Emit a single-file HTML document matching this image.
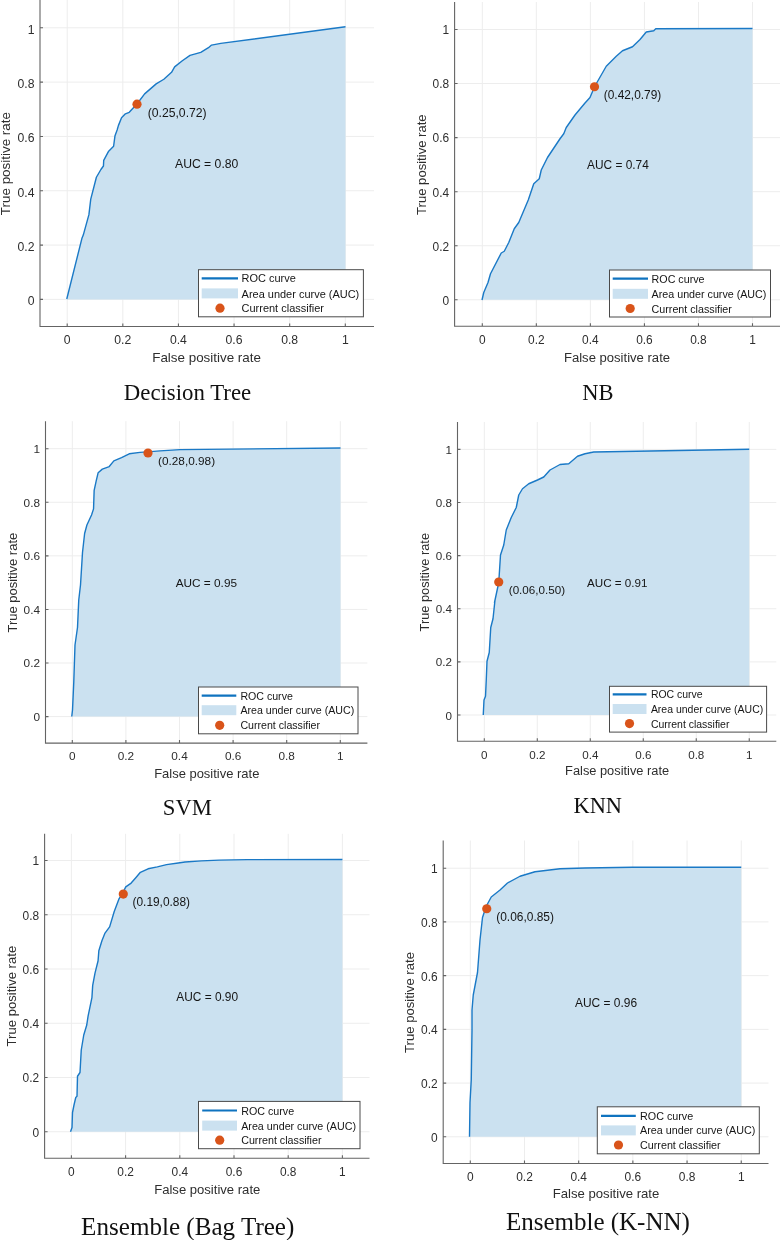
<!DOCTYPE html>
<html lang="en"><head><meta charset="utf-8"><title>ROC curves</title>
<style>
html,body{margin:0;padding:0;background:#fff}
svg{display:block}
text{font-family:"Liberation Sans",Arial,Helvetica,sans-serif}
.k{fill:#2e2e2e}
.d{fill:#151515}
.t{font-family:"Liberation Serif","Times New Roman",serif;fill:#111}
</style></head><body>
<svg width="780" height="1240" viewBox="0 0 780 1240">
<rect width="780" height="1240" fill="#fff"/>
<g id="plot1">
<path d="M67.2 -3V326.5M40 299.4H374M122.82 -3V326.5M40 245.08H374M178.44 -3V326.5M40 190.76H374M234.06 -3V326.5M40 136.44H374M289.68 -3V326.5M40 82.12H374M345.3 -3V326.5M40 27.8H374" stroke="#ededed" stroke-width="1" fill="none"/>
<path d="M66.77 298.97 L81.86 238.6 L83.27 235.08 L88.91 214.63 L90.75 199.11 L96.39 177.25 L100.9 169.49 L103.44 165.97 L103.72 160.32 L108.66 151.16 L113.6 146.22 L115.01 135.64 L117.12 130 L118.46 125.38 L121.54 117.69 L125.38 113.85 L129.23 112.31 L137.38 103.54 L144.62 93.85 L156.15 83.85 L163.85 79.23 L171.54 72.31 L174.62 66.92 L182.31 60.77 L190 55.38 L200.77 52.31 L208.46 47.69 L211.54 45.08 L220.77 43.38 L345.5 26.75 L345.5 299.4 L66.77 299.4 Z" fill="#cbe1f0"/>
<path d="M66.77 298.97 L81.86 238.6 L83.27 235.08 L88.91 214.63 L90.75 199.11 L96.39 177.25 L100.9 169.49 L103.44 165.97 L103.72 160.32 L108.66 151.16 L113.6 146.22 L115.01 135.64 L117.12 130 L118.46 125.38 L121.54 117.69 L125.38 113.85 L129.23 112.31 L137.38 103.54 L144.62 93.85 L156.15 83.85 L163.85 79.23 L171.54 72.31 L174.62 66.92 L182.31 60.77 L190 55.38 L200.77 52.31 L208.46 47.69 L211.54 45.08 L220.77 43.38 L345.5 26.75" fill="none" stroke="#1a79c6" stroke-width="1.4" stroke-linejoin="round"/>
<path d="M40 -3V326.5H374M67.2 326.5v-3M40 299.4h3M122.82 326.5v-3M40 245.08h3M178.44 326.5v-3M40 190.76h3M234.06 326.5v-3M40 136.44h3M289.68 326.5v-3M40 82.12h3M345.3 326.5v-3M40 27.8h3" stroke="#646464" stroke-width="1.1" fill="none"/>
<text class="k" x="67.2" y="344.37" font-size="12.2" text-anchor="middle">0</text><text class="k" x="34.5" y="305.27" font-size="12.2" text-anchor="end">0</text>
<text class="k" x="122.82" y="344.37" font-size="12.2" text-anchor="middle">0.2</text><text class="k" x="34.5" y="250.95" font-size="12.2" text-anchor="end">0.2</text>
<text class="k" x="178.44" y="344.37" font-size="12.2" text-anchor="middle">0.4</text><text class="k" x="34.5" y="196.63" font-size="12.2" text-anchor="end">0.4</text>
<text class="k" x="234.06" y="344.37" font-size="12.2" text-anchor="middle">0.6</text><text class="k" x="34.5" y="142.31" font-size="12.2" text-anchor="end">0.6</text>
<text class="k" x="289.68" y="344.37" font-size="12.2" text-anchor="middle">0.8</text><text class="k" x="34.5" y="87.99" font-size="12.2" text-anchor="end">0.8</text>
<text class="k" x="345.3" y="344.37" font-size="12.2" text-anchor="middle">1</text><text class="k" x="34.5" y="33.67" font-size="12.2" text-anchor="end">1</text>
<text class="k" x="206.6" y="361.73" font-size="13.42" text-anchor="middle">False positive rate</text>
<text class="k" transform="translate(10.23 163.6) rotate(-90)" font-size="13.42" text-anchor="middle">True positive rate</text>
<circle cx="137" cy="104.2" r="4.6" fill="#d9541a"/>
<text x="147.7" y="117.26" font-size="12.2" class="d">(0.25,0.72)</text>
<text x="175" y="167.87" font-size="12.2" class="d">AUC = 0.80</text>
<rect x="198.5" y="269.7" width="164.9" height="47.1" fill="#fff" stroke="#4a4a4a" stroke-width="1"/>
<path d="M201.7 278.3H238" stroke="#0f73bf" stroke-width="2.2"/><rect x="201.7" y="288.4" width="36.3" height="10" fill="#cbe1f0"/><circle cx="220" cy="308.2" r="4.6" fill="#d9541a"/>
<text x="241.6" y="282.43" font-size="10.98" class="d">ROC curve</text><text x="241.6" y="297.53" font-size="10.98" class="d">Area under curve (AUC)</text><text x="241.6" y="312.33" font-size="10.98" class="d">Current classifier</text>
<text class="t" x="187.5" y="399.5" font-size="22.84" text-anchor="middle">Decision Tree</text>
</g>
<g id="plot2">
<path d="M482.3 2V326.3M454.6 299.8H790M536.34 2V326.3M454.6 245.74H790M590.38 2V326.3M454.6 191.68H790M644.42 2V326.3M454.6 137.62H790M698.46 2V326.3M454.6 83.56H790M752.5 2V326.3M454.6 29.5H790" stroke="#ededed" stroke-width="1" fill="none"/>
<path d="M482 300 L483.75 292.5 L488 282.5 L490.5 273.75 L501.25 253 L504.25 251.25 L508.75 242.5 L514.25 228.75 L518.75 222.5 L528.25 200 L533.75 183.75 L539.25 178.75 L541.25 170 L547.5 157.5 L560 138.75 L563.75 133.75 L566.25 127.5 L575 115 L585 103 L590 97.5 L594.5 86.75 L606.25 66.25 L616.25 56.25 L622.5 50.75 L632.5 46.75 L640 39.5 L646.25 32 L653.75 30.75 L655.75 28.75 L752.5 28.5 L752.5 299.8 L482 299.8 Z" fill="#cbe1f0"/>
<path d="M482 300 L483.75 292.5 L488 282.5 L490.5 273.75 L501.25 253 L504.25 251.25 L508.75 242.5 L514.25 228.75 L518.75 222.5 L528.25 200 L533.75 183.75 L539.25 178.75 L541.25 170 L547.5 157.5 L560 138.75 L563.75 133.75 L566.25 127.5 L575 115 L585 103 L590 97.5 L594.5 86.75 L606.25 66.25 L616.25 56.25 L622.5 50.75 L632.5 46.75 L640 39.5 L646.25 32 L653.75 30.75 L655.75 28.75 L752.5 28.5" fill="none" stroke="#1a79c6" stroke-width="1.4" stroke-linejoin="round"/>
<path d="M454.6 2V326.3H790M482.3 326.3v-3M454.6 299.8h3M536.34 326.3v-3M454.6 245.74h3M590.38 326.3v-3M454.6 191.68h3M644.42 326.3v-3M454.6 137.62h3M698.46 326.3v-3M454.6 83.56h3M752.5 326.3v-3M454.6 29.5h3" stroke="#646464" stroke-width="1.1" fill="none"/>
<text class="k" x="482.3" y="344.26" font-size="11.9" text-anchor="middle">0</text><text class="k" x="449.1" y="304.66" font-size="11.9" text-anchor="end">0</text>
<text class="k" x="536.34" y="344.26" font-size="11.9" text-anchor="middle">0.2</text><text class="k" x="449.1" y="250.6" font-size="11.9" text-anchor="end">0.2</text>
<text class="k" x="590.38" y="344.26" font-size="11.9" text-anchor="middle">0.4</text><text class="k" x="449.1" y="196.54" font-size="11.9" text-anchor="end">0.4</text>
<text class="k" x="644.42" y="344.26" font-size="11.9" text-anchor="middle">0.6</text><text class="k" x="449.1" y="142.48" font-size="11.9" text-anchor="end">0.6</text>
<text class="k" x="698.46" y="344.26" font-size="11.9" text-anchor="middle">0.8</text><text class="k" x="449.1" y="88.42" font-size="11.9" text-anchor="end">0.8</text>
<text class="k" x="752.5" y="344.26" font-size="11.9" text-anchor="middle">1</text><text class="k" x="449.1" y="34.36" font-size="11.9" text-anchor="end">1</text>
<text class="k" x="617" y="361.63" font-size="13.09" text-anchor="middle">False positive rate</text>
<text class="k" transform="translate(426.43 164.65) rotate(-90)" font-size="13.09" text-anchor="middle">True positive rate</text>
<circle cx="594.5" cy="86.75" r="4.6" fill="#d9541a"/>
<text x="603.75" y="98.57" font-size="11.9" class="d">(0.42,0.79)</text>
<text x="587" y="169.26" font-size="11.9" class="d">AUC = 0.74</text>
<rect x="609.5" y="270" width="161" height="47" fill="#fff" stroke="#4a4a4a" stroke-width="1"/>
<path d="M612.7 278.7H648" stroke="#0f73bf" stroke-width="2.2"/><rect x="612.7" y="288.8" width="35.3" height="10" fill="#cbe1f0"/><circle cx="630.2" cy="308.5" r="4.6" fill="#d9541a"/>
<text x="651.6" y="282.74" font-size="10.71" class="d">ROC curve</text><text x="651.6" y="297.84" font-size="10.71" class="d">Area under curve (AUC)</text><text x="651.6" y="312.54" font-size="10.71" class="d">Current classifier</text>
<text class="t" x="597.8" y="399.5" font-size="22.5" text-anchor="middle">NB</text>
</g>
<g id="plot3">
<path d="M72.3 421.2V743.1M45.5 716.6H367.4M125.9 421.2V743.1M45.5 663.02H367.4M179.5 421.2V743.1M45.5 609.44H367.4M233.1 421.2V743.1M45.5 555.86H367.4M286.7 421.2V743.1M45.5 502.28H367.4M340.3 421.2V743.1M45.5 448.7H367.4" stroke="#ededed" stroke-width="1" fill="none"/>
<path d="M71.75 716.5 L72.5 710 L73.75 682.5 L75 645 L77.5 627.5 L78.75 600 L80.5 585 L82.5 552.5 L84.62 533.46 L86.92 525 L91.54 515 L93.54 508.85 L94.15 490.38 L96.15 481.15 L98.15 472.69 L102.31 469.15 L109.23 466.54 L113.85 460.85 L121.54 457.62 L129.23 453.77 L140 452.38 L147.69 451.92 L160 450.85 L180 449.62 L340.5 448 L340.5 716.6 L71.75 716.6 Z" fill="#cbe1f0"/>
<path d="M71.75 716.5 L72.5 710 L73.75 682.5 L75 645 L77.5 627.5 L78.75 600 L80.5 585 L82.5 552.5 L84.62 533.46 L86.92 525 L91.54 515 L93.54 508.85 L94.15 490.38 L96.15 481.15 L98.15 472.69 L102.31 469.15 L109.23 466.54 L113.85 460.85 L121.54 457.62 L129.23 453.77 L140 452.38 L147.69 451.92 L160 450.85 L180 449.62 L340.5 448" fill="none" stroke="#1a79c6" stroke-width="1.4" stroke-linejoin="round"/>
<path d="M45.5 421.2V743.1H367.4M72.3 743.1v-3M45.5 716.6h3M125.9 743.1v-3M45.5 663.02h3M179.5 743.1v-3M45.5 609.44h3M233.1 743.1v-3M45.5 555.86h3M286.7 743.1v-3M45.5 502.28h3M340.3 743.1v-3M45.5 448.7h3" stroke="#646464" stroke-width="1.1" fill="none"/>
<text class="k" x="72.3" y="760.12" font-size="11.8" text-anchor="middle">0</text><text class="k" x="40" y="720.82" font-size="11.8" text-anchor="end">0</text>
<text class="k" x="125.9" y="760.12" font-size="11.8" text-anchor="middle">0.2</text><text class="k" x="40" y="667.24" font-size="11.8" text-anchor="end">0.2</text>
<text class="k" x="179.5" y="760.12" font-size="11.8" text-anchor="middle">0.4</text><text class="k" x="40" y="613.66" font-size="11.8" text-anchor="end">0.4</text>
<text class="k" x="233.1" y="760.12" font-size="11.8" text-anchor="middle">0.6</text><text class="k" x="40" y="560.08" font-size="11.8" text-anchor="end">0.6</text>
<text class="k" x="286.7" y="760.12" font-size="11.8" text-anchor="middle">0.8</text><text class="k" x="40" y="506.5" font-size="11.8" text-anchor="end">0.8</text>
<text class="k" x="340.3" y="760.12" font-size="11.8" text-anchor="middle">1</text><text class="k" x="40" y="452.92" font-size="11.8" text-anchor="end">1</text>
<text class="k" x="206.75" y="777.79" font-size="12.98" text-anchor="middle">False positive rate</text>
<text class="k" transform="translate(17.39 582.65) rotate(-90)" font-size="12.98" text-anchor="middle">True positive rate</text>
<circle cx="148" cy="453" r="4.6" fill="#d9541a"/>
<text x="158" y="464.79" font-size="11.8" class="d">(0.28,0.98)</text>
<text x="175.7" y="587.22" font-size="11.8" class="d">AUC = 0.95</text>
<rect x="198.5" y="687" width="159.5" height="46.8" fill="#fff" stroke="#4a4a4a" stroke-width="1"/>
<path d="M201.7 695.6H236.3" stroke="#0f73bf" stroke-width="2.2"/><rect x="201.7" y="705.2" width="34.6" height="10" fill="#cbe1f0"/><circle cx="219.7" cy="725.3" r="4.6" fill="#d9541a"/>
<text x="240.4" y="699.61" font-size="10.62" class="d">ROC curve</text><text x="240.4" y="714.21" font-size="10.62" class="d">Area under curve (AUC)</text><text x="240.4" y="729.31" font-size="10.62" class="d">Current classifier</text>
<text class="t" x="187.4" y="815" font-size="22.7" text-anchor="middle">SVM</text>
</g>
<g id="plot4">
<path d="M484.3 422V741.3M457.5 715H776.3M537.29 422V741.3M457.5 661.88H776.3M590.28 422V741.3M457.5 608.76H776.3M643.27 422V741.3M457.5 555.64H776.3M696.26 422V741.3M457.5 502.52H776.3M749.25 422V741.3M457.5 449.4H776.3" stroke="#ededed" stroke-width="1" fill="none"/>
<path d="M483.25 715 L484 700 L485.5 696.25 L486.25 680 L487 661.25 L489.25 652.5 L490.75 627.5 L493 618.75 L495 600 L494.5 602.5 L498.75 582.5 L500.5 555 L503.75 545 L506.25 530 L511.25 517.5 L516.25 507.5 L518.75 495 L522.5 488.75 L528.75 483.75 L537.5 480 L543.75 477 L550 470 L560 464.5 L568.75 463.75 L577.5 456.25 L585 453.75 L593.75 452 L749.25 449.25 L749.25 715 L483.25 715 Z" fill="#cbe1f0"/>
<path d="M483.25 715 L484 700 L485.5 696.25 L486.25 680 L487 661.25 L489.25 652.5 L490.75 627.5 L493 618.75 L495 600 L494.5 602.5 L498.75 582.5 L500.5 555 L503.75 545 L506.25 530 L511.25 517.5 L516.25 507.5 L518.75 495 L522.5 488.75 L528.75 483.75 L537.5 480 L543.75 477 L550 470 L560 464.5 L568.75 463.75 L577.5 456.25 L585 453.75 L593.75 452 L749.25 449.25" fill="none" stroke="#1a79c6" stroke-width="1.4" stroke-linejoin="round"/>
<path d="M457.5 422V741.3H776.3M484.3 741.3v-3M457.5 715h3M537.29 741.3v-3M457.5 661.88h3M590.28 741.3v-3M457.5 608.76h3M643.27 741.3v-3M457.5 555.64h3M696.26 741.3v-3M457.5 502.52h3M749.25 741.3v-3M457.5 449.4h3" stroke="#646464" stroke-width="1.1" fill="none"/>
<text class="k" x="484.3" y="758.57" font-size="11.65" text-anchor="middle">0</text><text class="k" x="452" y="719.57" font-size="11.65" text-anchor="end">0</text>
<text class="k" x="537.29" y="758.57" font-size="11.65" text-anchor="middle">0.2</text><text class="k" x="452" y="666.45" font-size="11.65" text-anchor="end">0.2</text>
<text class="k" x="590.28" y="758.57" font-size="11.65" text-anchor="middle">0.4</text><text class="k" x="452" y="613.33" font-size="11.65" text-anchor="end">0.4</text>
<text class="k" x="643.27" y="758.57" font-size="11.65" text-anchor="middle">0.6</text><text class="k" x="452" y="560.21" font-size="11.65" text-anchor="end">0.6</text>
<text class="k" x="696.26" y="758.57" font-size="11.65" text-anchor="middle">0.8</text><text class="k" x="452" y="507.09" font-size="11.65" text-anchor="end">0.8</text>
<text class="k" x="749.25" y="758.57" font-size="11.65" text-anchor="middle">1</text><text class="k" x="452" y="453.97" font-size="11.65" text-anchor="end">1</text>
<text class="k" x="617.1" y="775.24" font-size="12.82" text-anchor="middle">False positive rate</text>
<text class="k" transform="translate(429.34 582.2) rotate(-90)" font-size="12.82" text-anchor="middle">True positive rate</text>
<circle cx="498.75" cy="582" r="4.6" fill="#d9541a"/>
<text x="508.75" y="593.5" font-size="11.65" class="d">(0.06,0.50)</text>
<text x="587" y="586.67" font-size="11.65" class="d">AUC = 0.91</text>
<rect x="609.5" y="686.3" width="157.1" height="45.8" fill="#fff" stroke="#4a4a4a" stroke-width="1"/>
<path d="M612.7 694.4H646.5" stroke="#0f73bf" stroke-width="2.2"/><rect x="612.7" y="704" width="33.8" height="10" fill="#cbe1f0"/><circle cx="629.5" cy="723.6" r="4.6" fill="#d9541a"/>
<text x="650.9" y="698.36" font-size="10.48" class="d">ROC curve</text><text x="650.9" y="712.96" font-size="10.48" class="d">Area under curve (AUC)</text><text x="650.9" y="727.56" font-size="10.48" class="d">Current classifier</text>
<text class="t" x="597.75" y="813.2" font-size="22.4" text-anchor="middle">KNN</text>
</g>
<g id="plot5">
<path d="M71.4 833.8V1158.3M44.6 1131.75H369.5M125.6 833.8V1158.3M44.6 1077.5H369.5M179.8 833.8V1158.3M44.6 1023.25H369.5M234 833.8V1158.3M44.6 969H369.5M288.2 833.8V1158.3M44.6 914.75H369.5M342.4 833.8V1158.3M44.6 860.5H369.5" stroke="#ededed" stroke-width="1" fill="none"/>
<path d="M70.5 1131.75 L72 1127.5 L72.5 1112.5 L74 1105 L75.75 1097.5 L77 1096.25 L77.5 1076.25 L80 1072.5 L81.25 1050 L83.75 1035 L86.75 1025 L88.08 1016.15 L91.92 997.69 L92.69 985.38 L95 973.08 L98.08 960.77 L98.85 950.77 L101.92 940.77 L105 933.08 L109.62 926.92 L114.23 911.54 L118.85 899.23 L122.69 893.08 L125.77 886.92 L131.15 883.08 L135.77 877.69 L140.38 872.31 L148.08 868.77 L157.31 866.92 L166.54 864.62 L178.2 863 L185 862 L201.3 860.9 L219.2 860.1 L247.4 859.6 L342.4 859.5 L342.4 1131.75 L70.5 1131.75 Z" fill="#cbe1f0"/>
<path d="M70.5 1131.75 L72 1127.5 L72.5 1112.5 L74 1105 L75.75 1097.5 L77 1096.25 L77.5 1076.25 L80 1072.5 L81.25 1050 L83.75 1035 L86.75 1025 L88.08 1016.15 L91.92 997.69 L92.69 985.38 L95 973.08 L98.08 960.77 L98.85 950.77 L101.92 940.77 L105 933.08 L109.62 926.92 L114.23 911.54 L118.85 899.23 L122.69 893.08 L125.77 886.92 L131.15 883.08 L135.77 877.69 L140.38 872.31 L148.08 868.77 L157.31 866.92 L166.54 864.62 L178.2 863 L185 862 L201.3 860.9 L219.2 860.1 L247.4 859.6 L342.4 859.5" fill="none" stroke="#1a79c6" stroke-width="1.4" stroke-linejoin="round"/>
<path d="M44.6 833.8V1158.3H369.5M71.4 1158.3v-3M44.6 1131.75h3M125.6 1158.3v-3M44.6 1077.5h3M179.8 1158.3v-3M44.6 1023.25h3M234 1158.3v-3M44.6 969h3M288.2 1158.3v-3M44.6 914.75h3M342.4 1158.3v-3M44.6 860.5h3" stroke="#646464" stroke-width="1.1" fill="none"/>
<text class="k" x="71.4" y="1176.26" font-size="11.9" text-anchor="middle">0</text><text class="k" x="39.1" y="1136.61" font-size="11.9" text-anchor="end">0</text>
<text class="k" x="125.6" y="1176.26" font-size="11.9" text-anchor="middle">0.2</text><text class="k" x="39.1" y="1082.36" font-size="11.9" text-anchor="end">0.2</text>
<text class="k" x="179.8" y="1176.26" font-size="11.9" text-anchor="middle">0.4</text><text class="k" x="39.1" y="1028.11" font-size="11.9" text-anchor="end">0.4</text>
<text class="k" x="234" y="1176.26" font-size="11.9" text-anchor="middle">0.6</text><text class="k" x="39.1" y="973.86" font-size="11.9" text-anchor="end">0.6</text>
<text class="k" x="288.2" y="1176.26" font-size="11.9" text-anchor="middle">0.8</text><text class="k" x="39.1" y="919.61" font-size="11.9" text-anchor="end">0.8</text>
<text class="k" x="342.4" y="1176.26" font-size="11.9" text-anchor="middle">1</text><text class="k" x="39.1" y="865.36" font-size="11.9" text-anchor="end">1</text>
<text class="k" x="207.25" y="1193.63" font-size="13.09" text-anchor="middle">False positive rate</text>
<text class="k" transform="translate(15.93 996.12) rotate(-90)" font-size="13.09" text-anchor="middle">True positive rate</text>
<circle cx="123.3" cy="894.1" r="4.6" fill="#d9541a"/>
<text x="132.5" y="906.07" font-size="11.9" class="d">(0.19,0.88)</text>
<text x="176.25" y="1001.01" font-size="11.9" class="d">AUC = 0.90</text>
<rect x="198.5" y="1101.4" width="161.5" height="47.3" fill="#fff" stroke="#4a4a4a" stroke-width="1"/>
<path d="M202.2 1110.5H237" stroke="#0f73bf" stroke-width="2.2"/><rect x="202.2" y="1120.6" width="34.8" height="10" fill="#cbe1f0"/><circle cx="219.7" cy="1140.2" r="4.6" fill="#d9541a"/>
<text x="241.2" y="1114.54" font-size="10.71" class="d">ROC curve</text><text x="241.2" y="1129.64" font-size="10.71" class="d">Area under curve (AUC)</text><text x="241.2" y="1144.24" font-size="10.71" class="d">Current classifier</text>
<text class="t" x="187.75" y="1234.7" font-size="25.1" text-anchor="middle">Ensemble (Bag Tree)</text>
</g>
<g id="plot6">
<path d="M470.3 840.5V1163.5M443.2 1136.8H768.5M524.49 840.5V1163.5M443.2 1083.08H768.5M578.68 840.5V1163.5M443.2 1029.36H768.5M632.87 840.5V1163.5M443.2 975.64H768.5M687.06 840.5V1163.5M443.2 921.92H768.5M741.25 840.5V1163.5M443.2 868.2H768.5" stroke="#ededed" stroke-width="1" fill="none"/>
<path d="M469.5 1136.75 L470 1102.5 L471.25 1080 L472 1030 L472 1010 L473.25 995 L477.5 972.5 L480 940 L482.5 917.5 L486.25 906.25 L491.25 897 L500 890 L507.5 883 L520 876.25 L535 871.75 L560 868.75 L585 868 L632.5 867.25 L741.25 867.25 L741.25 1136.8 L469.5 1136.8 Z" fill="#cbe1f0"/>
<path d="M469.5 1136.75 L470 1102.5 L471.25 1080 L472 1030 L472 1010 L473.25 995 L477.5 972.5 L480 940 L482.5 917.5 L486.25 906.25 L491.25 897 L500 890 L507.5 883 L520 876.25 L535 871.75 L560 868.75 L585 868 L632.5 867.25 L741.25 867.25" fill="none" stroke="#1a79c6" stroke-width="1.4" stroke-linejoin="round"/>
<path d="M443.2 840.5V1163.5H768.5M470.3 1163.5v-3M443.2 1136.8h3M524.49 1163.5v-3M443.2 1083.08h3M578.68 1163.5v-3M443.2 1029.36h3M632.87 1163.5v-3M443.2 975.64h3M687.06 1163.5v-3M443.2 921.92h3M741.25 1163.5v-3M443.2 868.2h3" stroke="#646464" stroke-width="1.1" fill="none"/>
<text class="k" x="470.3" y="1181.48" font-size="11.95" text-anchor="middle">0</text><text class="k" x="437.7" y="1141.68" font-size="11.95" text-anchor="end">0</text>
<text class="k" x="524.49" y="1181.48" font-size="11.95" text-anchor="middle">0.2</text><text class="k" x="437.7" y="1087.96" font-size="11.95" text-anchor="end">0.2</text>
<text class="k" x="578.68" y="1181.48" font-size="11.95" text-anchor="middle">0.4</text><text class="k" x="437.7" y="1034.24" font-size="11.95" text-anchor="end">0.4</text>
<text class="k" x="632.87" y="1181.48" font-size="11.95" text-anchor="middle">0.6</text><text class="k" x="437.7" y="980.52" font-size="11.95" text-anchor="end">0.6</text>
<text class="k" x="687.06" y="1181.48" font-size="11.95" text-anchor="middle">0.8</text><text class="k" x="437.7" y="926.8" font-size="11.95" text-anchor="end">0.8</text>
<text class="k" x="741.25" y="1181.48" font-size="11.95" text-anchor="middle">1</text><text class="k" x="437.7" y="873.08" font-size="11.95" text-anchor="end">1</text>
<text class="k" x="606" y="1198.44" font-size="13.15" text-anchor="middle">False positive rate</text>
<text class="k" transform="translate(414.34 1002.5) rotate(-90)" font-size="13.15" text-anchor="middle">True positive rate</text>
<circle cx="486.75" cy="908.75" r="4.6" fill="#d9541a"/>
<text x="496.25" y="920.59" font-size="11.95" class="d">(0.06,0.85)</text>
<text x="575" y="1007.28" font-size="11.95" class="d">AUC = 0.96</text>
<rect x="597.3" y="1106.8" width="162" height="47" fill="#fff" stroke="#4a4a4a" stroke-width="1"/>
<path d="M601 1115.8H635.8" stroke="#0f73bf" stroke-width="2.2"/><rect x="601" y="1125.4" width="34.8" height="10" fill="#cbe1f0"/><circle cx="618.5" cy="1145" r="4.6" fill="#d9541a"/>
<text x="640" y="1119.86" font-size="10.76" class="d">ROC curve</text><text x="640" y="1134.46" font-size="10.76" class="d">Area under curve (AUC)</text><text x="640" y="1149.06" font-size="10.76" class="d">Current classifier</text>
<text class="t" x="597.9" y="1229.9" font-size="25" text-anchor="middle">Ensemble (K-NN)</text>
</g>
</svg>
</body></html>
